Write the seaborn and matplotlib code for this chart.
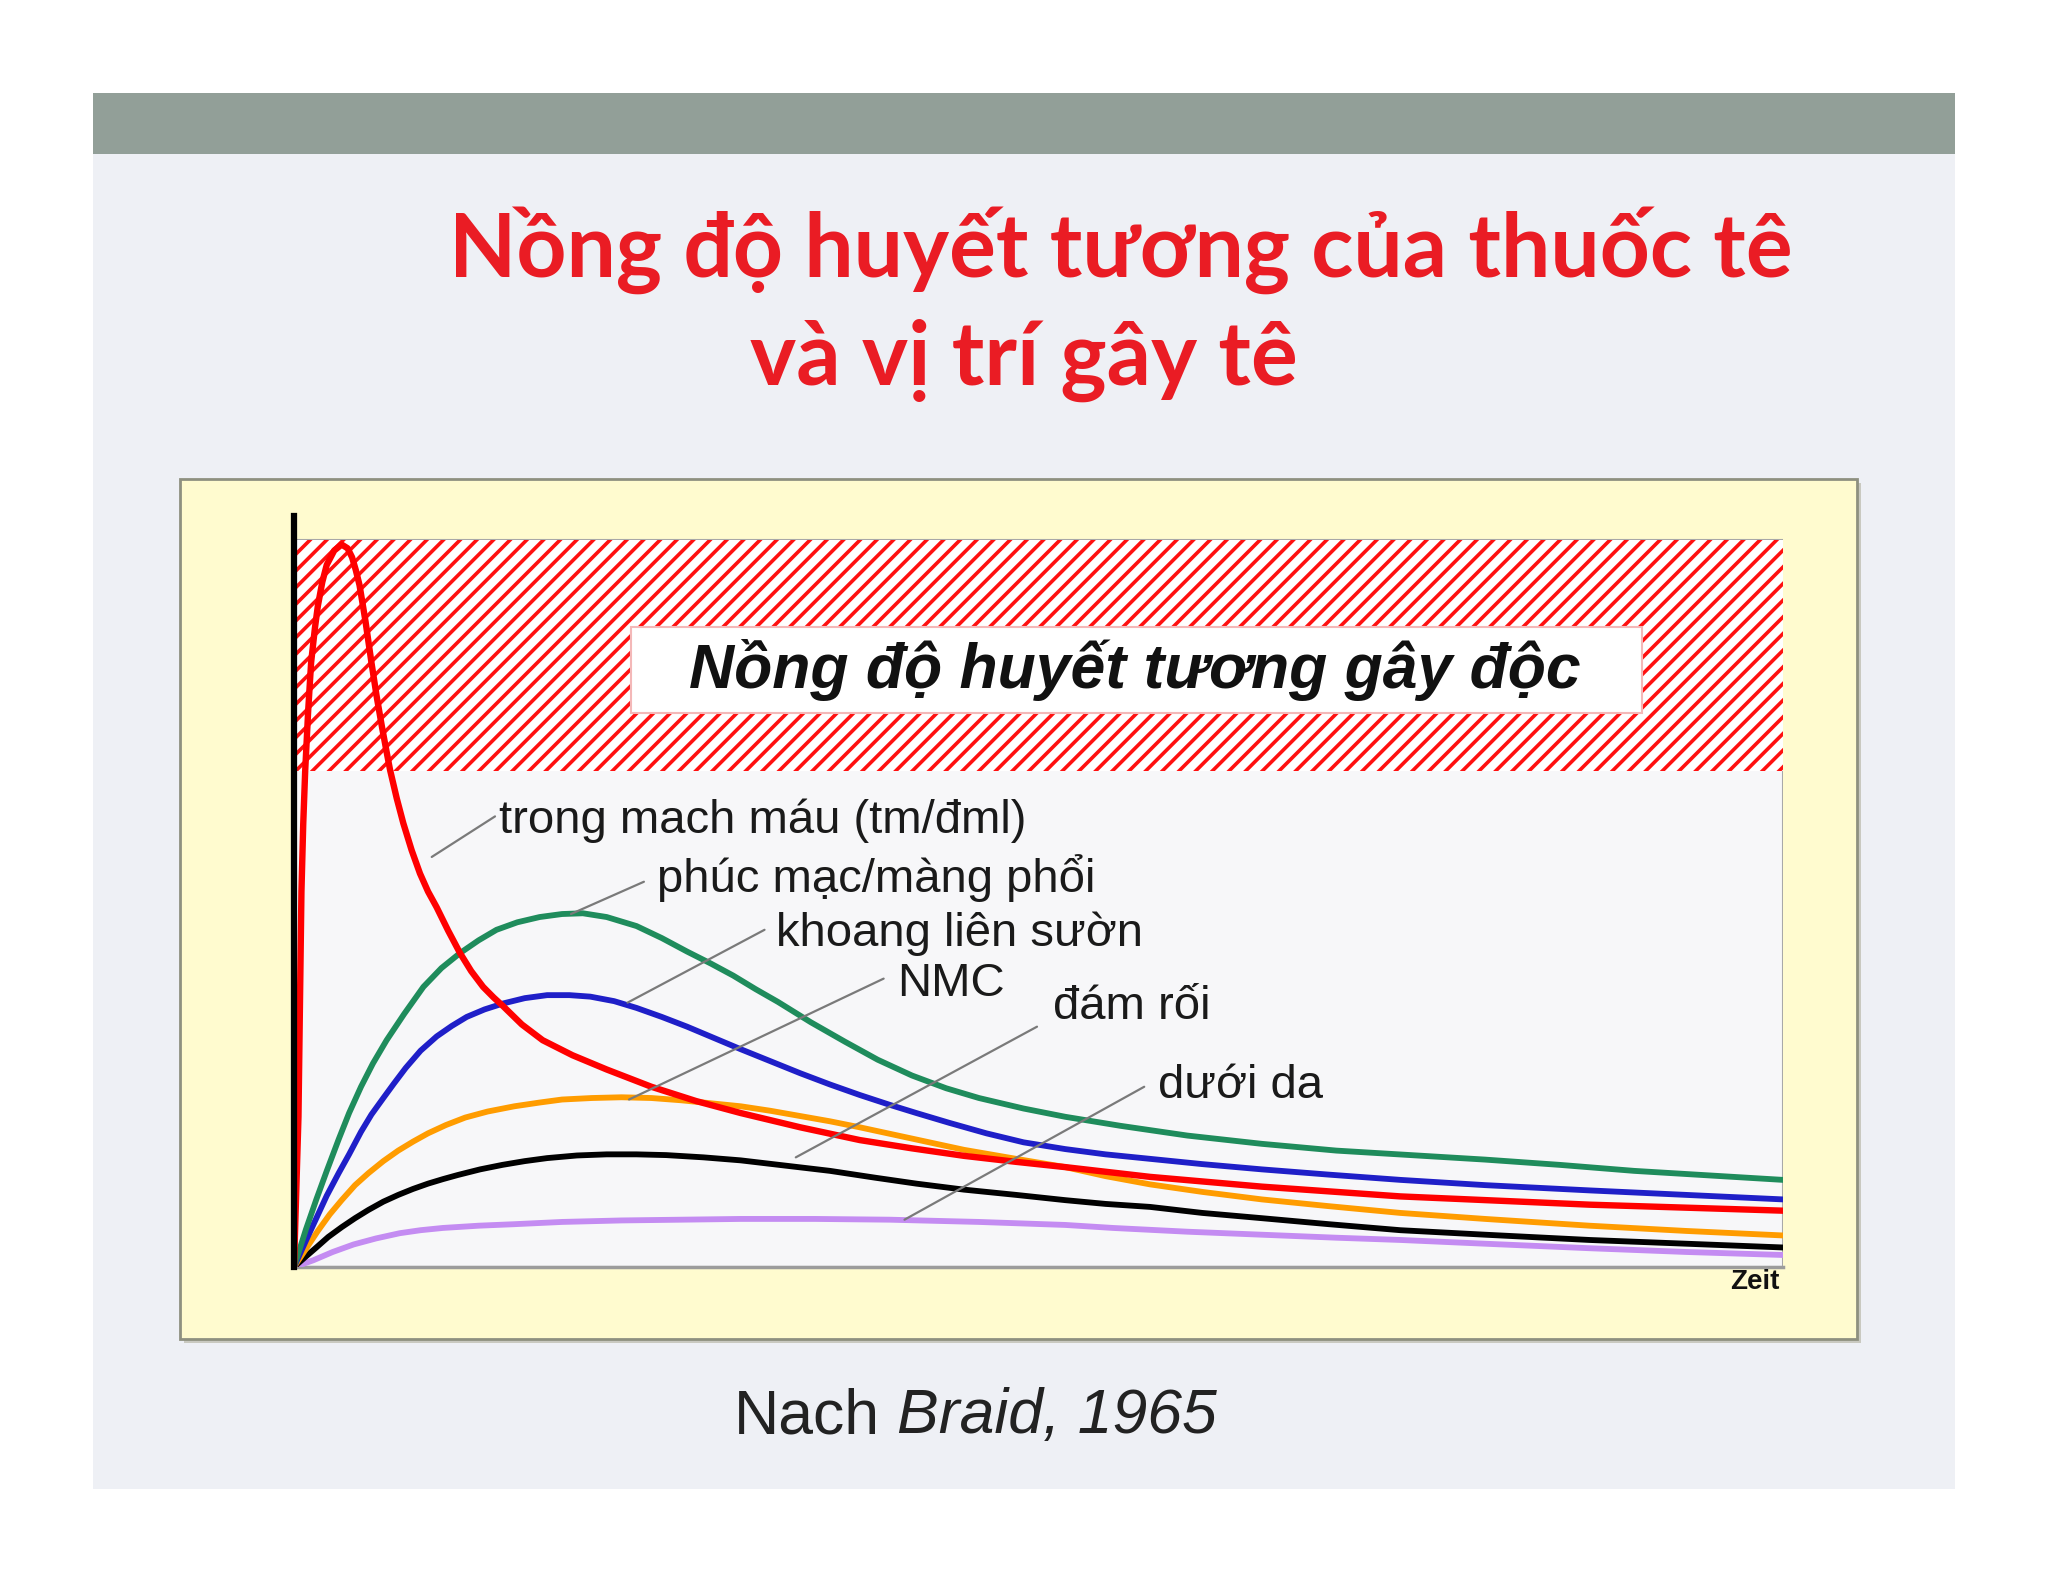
import matplotlib
matplotlib.use("Agg")
import matplotlib.pyplot as plt
from matplotlib.patches import Rectangle
import pandas as pd
import seaborn as sns

sns.set_theme(style="white")
plt.rcParams["font.family"] = ["Liberation Sans", "DejaVu Sans"]
plt.rcParams["hatch.linewidth"] = 2.6

# time axis is unitless (0-100), concentration 0-100 of the axis height
t_iv = [0, 0.15, 0.3, 0.4, 0.5, 0.62, 0.75, 0.95, 1.15, 1.4, 1.6, 1.9, 2.2, 2.7, 3.2, 3.6,
        3.9, 4.15, 4.4, 4.8, 5.2, 5.55, 5.9, 6.2, 6.45, 6.9, 7.34, 7.9, 8.46, 9.0, 9.58,
        10.35, 11.15, 11.9, 12.7, 13.4, 14.06, 15.3, 16.7, 18.7, 21, 24, 27, 30, 34, 38,
        41.5, 45, 48.5, 51.8, 57.5, 65, 74.3, 87, 100]
c_iv = [0, 10, 20, 35, 50, 59, 66, 74, 80.5, 85, 88, 91.2, 93.5, 95.4, 96.2, 95.7,
        94.5, 92.8, 90.8, 86, 80.5, 76, 72, 68.8, 66.2, 62.4, 59.1, 55.5, 52.4, 50, 47.9,
        44.8, 41.8, 39.4, 37.3, 35.9, 34.7, 32.3, 30.2, 28.2, 26.3, 24, 22.1, 20.5, 18.6, 16.9,
        15.8, 14.8, 14, 13.3, 12, 10.7, 9.4, 8.3, 7.5]

t_pleura = [0, 0.8, 1.5, 2.2, 3, 3.7, 4.5, 5.3, 6.22, 7.4, 8.69, 9.9, 11.15, 12.4, 13.6,
            15, 16.5, 18, 19.4, 21, 23, 24.7, 26.4, 28, 29.5, 31, 32.5, 34.7, 37, 39.2,
            41.5, 43.8, 46, 49, 51.8, 55.5, 60, 65, 70, 75, 80, 85, 90, 95, 100]
c_pleura = [0, 5, 9, 12.8, 17, 20.5, 24, 27.1, 30.2, 33.7, 37.3, 39.8, 41.8, 43.5, 44.9,
            45.9, 46.6, 47, 47.1, 46.6, 45.4, 43.8, 42, 40.4, 38.8, 37, 35.3, 32.6, 30, 27.6,
            25.5, 23.8, 22.5, 21.1, 20, 18.8, 17.5, 16.4, 15.5, 14.9, 14.3, 13.6, 12.8, 12.2, 11.6]

t_icn = [0, 0.8, 1.5, 2.2, 3, 3.7, 4.5, 5.2, 6, 6.7, 7.5, 8.5, 9.58, 10.6, 11.6, 12.8,
         14.06, 15.5, 17, 18.5, 19.9, 21.5, 23, 24.7, 26.4, 28.2, 30, 32, 34, 36, 38, 40,
         41.8, 44, 46.5, 49, 51.8, 54.5, 57.5, 61, 65, 69.5, 74.3, 80, 87, 93.5, 100]
c_icn = [0, 3.5, 6.5, 9.5, 12.5, 15.0, 18, 20.3, 22.5, 24.4, 26.5, 28.8, 30.7, 32.1, 33.3, 34.3,
         35.1, 35.8, 36.2, 36.2, 36, 35.4, 34.5, 33.3, 32, 30.5, 29, 27.4, 25.8, 24.3, 22.9, 21.6,
         20.5, 19.2, 17.8, 16.6, 15.7, 15, 14.4, 13.7, 13, 12.3, 11.6, 10.9, 10.2, 9.6, 9]

t_epi = [0, 0.8, 1.6, 2.4, 3.2, 4.1, 5, 6, 7, 8, 9, 10.2, 11.5, 13, 14.8, 16.5, 18, 20,
         22, 24, 26, 28, 30, 32, 34, 36, 38, 41.5, 45, 48.5, 51.8, 54.5, 57.5, 61, 65,
         69.5, 74.3, 80, 87, 93.5, 100]
c_epi = [0, 2.4, 4.8, 7, 8.9, 10.9, 12.5, 14.1, 15.5, 16.7, 17.8, 18.9, 19.9, 20.7, 21.4,
         21.9, 22.3, 22.5, 22.6, 22.5, 22.2, 21.8, 21.4, 20.8, 20.1, 19.4, 18.6, 17.1, 15.6,
         14.4, 13.3, 12.1, 11, 10, 9, 8.1, 7.2, 6.4, 5.5, 4.8, 4.2]

t_plexus = [0, 0.8, 1.5, 2.3, 3.2, 4.1, 5, 6, 7, 8, 9, 10, 11, 12.5, 14, 15.5, 17, 19, 21,
            23, 25, 27.5, 30, 33, 36, 39, 41.8, 45, 48.5, 51.8, 54.5, 57.5, 61, 65, 69.5,
            74.3, 80, 87, 93.5, 100]
c_plexus = [0, 1.4, 2.6, 4, 5.3, 6.5, 7.6, 8.7, 9.6, 10.4, 11.1, 11.7, 12.25, 13.0, 13.6, 14.1,
            14.5, 14.85, 15, 15, 14.9, 14.6, 14.2, 13.5, 12.8, 11.9, 11.1, 10.3, 9.6, 8.9, 8.4,
            8, 7.2, 6.5, 5.7, 4.9, 4.3, 3.6, 3.1, 2.6]

t_sc = [0, 0.6, 1.3, 2.6, 4, 5.5, 7.1, 8.5, 10, 12.4, 14.8, 18, 22, 26, 30, 35, 40, 46,
        51.8, 55, 60, 65, 70, 74.3, 80, 87, 93.5, 100]
c_sc = [0, 0.4, 0.9, 2, 3, 3.8, 4.5, 4.9, 5.2, 5.5, 5.7, 6, 6.2, 6.3, 6.4, 6.4, 6.3, 6,
        5.6, 5.2, 4.7, 4.3, 3.9, 3.6, 3.1, 2.5, 2, 1.6]

labels = ["trong mach máu (tm/đml)", "phúc mạc/màng phổi", "khoang liên sườn",
          "NMC", "đám rối", "dưới da"]
label_x = [13.8, 24.4, 32.4, 40.5, 51.0, 58.0]
label_y = [57.8, 50.0, 42.8, 36.1, 33.0, 22.5]
leader_x = [[9.25, 13.5], [18.6, 23.5], [22.4, 31.6], [22.5, 39.6], [33.7, 49.9], [41.0, 57.1]]
leader_y = [[54.6, 60.0], [47.0, 51.3], [35.2, 44.9], [22.3, 38.4], [14.6, 32.0], [6.3, 24.0]]

toxic_low, toxic_high = 66.0, 96.8

title1 = "Nồng độ huyết tương của thuốc tê"
title2 = "và vị trí gây tê"
toxic_label = "Nồng độ huyết tương gây độc"

fig = plt.figure(figsize=(20.48, 15.82), dpi=100)
fig.patch.set_facecolor("white")

# slide decoration in pixel coordinates
bg = fig.add_axes([0, 0, 1, 1])
bg.set_xlim(0, 2048)
bg.set_ylim(1582, 0)
bg.axis("off")
bg.add_patch(Rectangle((93, 154), 1862, 1335, facecolor="#eef0f5", edgecolor="none"))
bg.add_patch(Rectangle((93, 93), 1862, 61, facecolor="#929f98", edgecolor="none"))
bg.add_patch(Rectangle((184, 483), 1677, 860, facecolor="#c9c9c0", edgecolor="none"))
bg.add_patch(Rectangle((180, 479), 1677, 860, facecolor="#fffbcf", edgecolor="#8e9080", lw=2))

ax = fig.add_axes([294 / 2048, 1 - 1267 / 1582, 1489 / 2048, 751 / 1582])
ax.set_facecolor("none")
ax.set_xlim(0, 100)
ax.set_ylim(0, 100)
ax.set_xticks([])
ax.set_yticks([])
for s in ["top", "right"]:
    ax.spines[s].set_visible(False)
ax.spines["left"].set_color("black")
ax.spines["left"].set_linewidth(4.5)
ax.spines["left"].set_zorder(6)
ax.spines["bottom"].set_color("#9c9c9c")
ax.spines["bottom"].set_linewidth(2.5)

ax.add_patch(Rectangle((0, 0), 100, toxic_high, facecolor="#f7f7f9", edgecolor="#a8a8a8",
                       lw=1.5, zorder=0))
ax.add_patch(Rectangle((0, toxic_low), 100, toxic_high - toxic_low, facecolor="white",
                       edgecolor="#ff1010", hatch="//", lw=0, zorder=1))
ax.add_patch(Rectangle((22.6, 73.8), 67.9, 11.4, facecolor="white", edgecolor="#f4b8b8",
                       lw=1.5, zorder=2))
ax.text(56.5, 77.1, toxic_label, ha="center", va="baseline", fontsize=45,
        fontweight="bold", fontstyle="italic", color="#111111", zorder=3)

curves = [
    (t_sc, c_sc, "#c48cf2", 4.2),
    (t_plexus, c_plexus, "#000000", 4.2),
    (t_epi, c_epi, "#ff9c00", 4.2),
    (t_icn, c_icn, "#1f1fc8", 4.2),
    (t_pleura, c_pleura, "#1f8c5c", 4.2),
    (t_iv, c_iv, "#ff0000", 4.6),
]
for t, c, col, lw in curves:
    df = pd.DataFrame({"t": t, "c": c})
    sns.lineplot(data=df, x="t", y="c", color=col, lw=lw, estimator=None, sort=False,
                 ax=ax, zorder=4)

for lx, ly in zip(leader_x, leader_y):
    ax.plot(lx, ly, color="#7a7a7a", lw=1.6, zorder=5)
for lab, x, y in zip(labels, label_x, label_y):
    ax.text(x, y, lab, ha="left", va="baseline", fontsize=34, color="#1a1a1a", zorder=5)

ax.set_xlabel("")
ax.set_ylabel("")
ax.text(98.1, -2.0, "Zeit", ha="center", va="center", fontsize=20, fontweight="bold",
        color="#111111", clip_on=False)

fig.text(1121 / 2048, 1 - 277 / 1582, title1, ha="center", va="baseline", fontsize=63,
         fontweight="bold", color="#ea1c24", family=["Lato", "DejaVu Sans"])
fig.text(0.5, 1 - 385 / 1582, title2, ha="center", va="baseline", fontsize=63,
         fontweight="bold", color="#ea1c24", family=["Lato", "DejaVu Sans"])

fig.text(880 / 2048, 1 - 1433 / 1582, "Nach", ha="right", va="baseline", fontsize=45,
         color="#222222")
fig.text(897 / 2048, 1 - 1433 / 1582, "Braid, 1965", ha="left", va="baseline", fontsize=45,
         fontstyle="italic", color="#222222")

fig.savefig("out.png", dpi=100, facecolor="white")
